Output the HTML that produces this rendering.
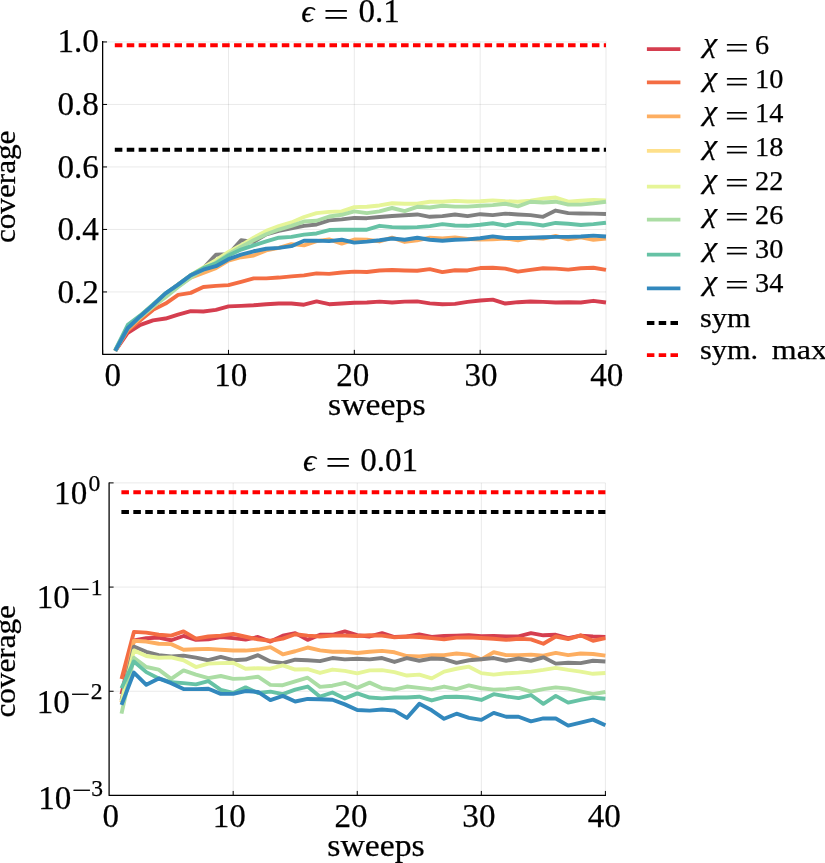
<!DOCTYPE html>
<html lang="en"><head><meta charset="utf-8"><title>coverage vs sweeps</title>
<style>html,body{margin:0;padding:0;background:#fff;}body{width:825px;height:863px;overflow:hidden;}svg{display:block;}text{font-family:"Liberation Serif","DejaVu Serif",serif;fill:#000;stroke:#000;stroke-width:0.25px;}.i{font-style:italic;}</style></head><body>
<svg width="825" height="863" viewBox="0 0 825 863">
<rect width="825" height="863" fill="#fff"/>
<g stroke="#000" stroke-opacity="0.085" stroke-width="1"><line x1="228.48" y1="41.45" x2="228.48" y2="354.27"/><line x1="354.32" y1="41.45" x2="354.32" y2="354.27"/><line x1="480.16" y1="41.45" x2="480.16" y2="354.27"/><line x1="606.00" y1="41.45" x2="606.00" y2="354.27"/><line x1="102.64" y1="291.95" x2="606.00" y2="291.95"/><line x1="102.64" y1="229.45" x2="606.00" y2="229.45"/><line x1="102.64" y1="166.95" x2="606.00" y2="166.95"/><line x1="102.64" y1="104.45" x2="606.00" y2="104.45"/><line x1="102.64" y1="41.95" x2="606.00" y2="41.95"/></g>
<polyline fill="none" stroke="#d53e4f" stroke-width="3.90" stroke-linejoin="round" points="115.22,350.85 127.81,332.73 140.39,324.85 152.98,320.44 165.56,318.55 178.14,314.61 190.73,311.14 203.31,311.46 215.90,309.88 228.48,306.42 241.06,305.91 253.65,305.23 266.23,304.22 278.82,303.54 291.40,303.54 303.98,304.72 316.57,301.33 329.15,304.22 341.74,303.54 354.32,302.69 366.90,302.52 379.49,301.67 392.07,302.52 404.66,301.67 417.24,301.33 429.82,303.37 442.41,304.22 454.99,303.88 467.58,301.84 480.16,300.48 492.74,299.63 505.33,303.54 517.91,302.18 530.50,301.50 543.08,301.84 555.66,302.52 568.25,302.18 580.83,302.52 593.42,300.82 606.00,302.52"/>
<polyline fill="none" stroke="#f46d43" stroke-width="3.90" stroke-linejoin="round" points="115.22,350.85 127.81,330.37 140.39,320.12 152.98,309.88 165.56,303.58 178.14,294.91 190.73,292.86 203.31,287.03 215.90,285.93 228.48,285.11 241.06,281.82 253.65,278.42 266.23,278.42 278.82,277.57 291.40,276.39 303.98,275.37 316.57,273.33 329.15,273.84 341.74,272.48 354.32,271.63 366.90,271.97 379.49,270.45 392.07,269.94 404.66,270.45 417.24,270.79 429.82,269.09 442.41,272.14 454.99,270.28 467.58,270.45 480.16,268.07 492.74,267.73 505.33,268.58 517.91,271.63 530.50,269.94 543.08,268.24 555.66,268.58 568.25,269.60 580.83,268.24 593.42,267.73 606.00,269.94"/>
<polyline fill="none" stroke="#fdae61" stroke-width="3.90" stroke-linejoin="round" points="115.22,350.85 127.81,329.26 140.39,317.76 152.98,306.73 165.56,295.70 178.14,286.24 190.73,277.58 203.31,272.85 215.90,268.12 228.48,260.62 241.06,257.21 253.65,255.51 266.23,250.42 278.82,247.88 291.40,244.14 303.98,245.33 316.57,241.09 329.15,239.39 341.74,243.63 354.32,239.56 366.90,239.73 379.49,241.43 392.07,237.70 404.66,241.94 417.24,240.24 429.82,237.70 442.41,238.54 454.99,237.36 467.58,239.05 480.16,239.56 492.74,239.39 505.33,238.54 517.91,240.24 530.50,237.70 543.08,238.54 555.66,236.00 568.25,239.39 580.83,237.36 593.42,239.73 606.00,238.54"/>
<polyline fill="none" stroke="#808080" stroke-width="3.90" stroke-linejoin="round" points="115.22,350.85 127.81,328.00 140.39,316.18 152.98,305.15 165.56,294.12 178.14,284.67 190.73,275.21 203.31,268.44 215.90,254.73 228.48,254.30 241.06,240.24 253.65,241.94 266.23,234.30 278.82,230.91 291.40,228.36 303.98,225.82 316.57,224.46 329.15,220.39 341.74,219.37 354.32,217.93 366.90,218.18 379.49,216.99 392.07,215.97 404.66,215.30 417.24,214.45 429.82,216.82 442.41,216.14 454.99,214.45 467.58,216.14 480.16,214.19 492.74,215.13 505.33,213.60 517.91,214.45 530.50,215.13 543.08,216.82 555.66,210.54 568.25,213.09 580.83,213.43 593.42,213.60 606.00,213.94"/>
<polyline fill="none" stroke="#e6f598" stroke-width="3.90" stroke-linejoin="round" points="115.22,350.85 127.81,327.21 140.39,315.40 152.98,304.68 165.56,294.12 178.14,284.67 190.73,275.21 203.31,267.33 215.90,260.24 228.48,251.91 241.06,245.33 253.65,237.70 266.23,230.91 278.82,226.16 291.40,222.42 303.98,216.99 316.57,213.09 329.15,211.90 341.74,211.39 354.32,207.15 366.90,206.81 379.49,205.45 392.07,203.25 404.66,203.76 417.24,203.76 429.82,201.72 442.41,201.72 454.99,200.87 467.58,201.55 480.16,201.21 492.74,200.36 505.33,201.21 517.91,201.72 530.50,200.70 543.08,198.67 555.66,197.48 568.25,201.72 580.83,200.70 593.42,199.85 606.00,200.36"/>
<polyline fill="none" stroke="#abdda4" stroke-width="3.90" stroke-linejoin="round" points="115.22,350.85 127.81,326.43 140.39,316.97 152.98,306.73 165.56,297.27 178.14,287.03 190.73,277.58 203.31,269.70 215.90,262.61 228.48,254.30 241.06,247.03 253.65,240.24 266.23,234.30 278.82,229.55 291.40,225.82 303.98,221.57 316.57,220.73 329.15,216.48 341.74,214.79 354.32,211.39 366.90,213.09 379.49,211.39 392.07,208.00 404.66,211.05 417.24,206.81 429.82,207.49 442.41,205.79 454.99,206.64 467.58,206.64 480.16,205.79 492.74,205.11 505.33,203.76 517.91,206.30 530.50,201.72 543.08,202.57 555.66,201.72 568.25,204.61 580.83,204.61 593.42,203.42 606.00,201.72"/>
<polyline fill="none" stroke="#66c2a5" stroke-width="3.90" stroke-linejoin="round" points="115.22,350.06 127.81,324.85 140.39,315.40 152.98,304.37 165.56,293.34 178.14,284.67 190.73,275.21 203.31,268.12 215.90,263.39 228.48,255.51 241.06,249.57 253.65,245.33 266.23,241.43 278.82,237.70 291.40,236.85 303.98,234.64 316.57,233.45 329.15,230.06 341.74,229.72 354.32,229.72 366.90,229.72 379.49,225.82 392.07,227.17 404.66,227.51 417.24,227.17 429.82,226.16 442.41,224.12 454.99,225.48 467.58,225.82 480.16,224.71 492.74,223.27 505.33,225.48 517.91,222.93 530.50,223.61 543.08,225.48 555.66,222.93 568.25,223.78 580.83,224.97 593.42,224.12 606.00,222.76"/>
<polyline fill="none" stroke="#3288bd" stroke-width="3.90" stroke-linejoin="round" points="115.22,350.85 127.81,328.00 140.39,316.18 152.98,305.15 165.56,293.34 178.14,284.67 190.73,275.21 203.31,269.70 215.90,266.23 228.48,259.18 241.06,254.66 253.65,251.27 266.23,248.73 278.82,247.88 291.40,246.18 303.98,240.75 316.57,240.58 329.15,241.09 341.74,239.73 354.32,242.62 366.90,241.60 379.49,240.24 392.07,238.54 404.66,239.73 417.24,237.70 429.82,239.73 442.41,240.75 454.99,239.73 467.58,239.39 480.16,238.29 492.74,236.34 505.33,238.03 517.91,238.03 530.50,237.70 543.08,237.19 555.66,236.85 568.25,236.85 580.83,236.51 593.42,235.66 606.00,236.51"/>
<line x1="114.8" y1="149.7" x2="606.0" y2="149.7" stroke="#000" stroke-width="3.9" stroke-dasharray="7.55 4.377"/>
<line x1="114.8" y1="45.3" x2="606.0" y2="45.3" stroke="#f00" stroke-width="3.9" stroke-dasharray="7.55 4.377"/>
<path d="M102.64 41.00V354.27H606.60" fill="none" stroke="#000" stroke-width="1.27" stroke-linejoin="round"/>
<g stroke="#000" stroke-width="1.0"><line x1="102.64" y1="354.27" x2="102.64" y2="349.87"/><line x1="228.48" y1="354.27" x2="228.48" y2="349.87"/><line x1="354.32" y1="354.27" x2="354.32" y2="349.87"/><line x1="480.16" y1="354.27" x2="480.16" y2="349.87"/><line x1="606.00" y1="354.27" x2="606.00" y2="349.87"/><line x1="102.64" y1="291.95" x2="107.04" y2="291.95"/><line x1="102.64" y1="229.45" x2="107.04" y2="229.45"/><line x1="102.64" y1="166.95" x2="107.04" y2="166.95"/><line x1="102.64" y1="104.45" x2="107.04" y2="104.45"/><line x1="102.64" y1="41.95" x2="107.04" y2="41.95"/></g>
<text x="98.9" y="302.6" font-size="34.3" text-anchor="end" textLength="41.4" lengthAdjust="spacingAndGlyphs">0.2</text>
<text x="98.9" y="240.0" font-size="34.3" text-anchor="end" textLength="41.4" lengthAdjust="spacingAndGlyphs">0.4</text>
<text x="98.9" y="177.5" font-size="34.3" text-anchor="end" textLength="41.4" lengthAdjust="spacingAndGlyphs">0.6</text>
<text x="98.9" y="115.0" font-size="34.3" text-anchor="end" textLength="41.4" lengthAdjust="spacingAndGlyphs">0.8</text>
<text x="98.9" y="51.6" font-size="34.3" text-anchor="end" textLength="41.4" lengthAdjust="spacingAndGlyphs">1.0</text>
<text x="112.7" y="385.5" font-size="34.3" text-anchor="middle" textLength="16.5" lengthAdjust="spacingAndGlyphs">0</text>
<text x="230.7" y="385.5" font-size="34.3" text-anchor="middle" textLength="33.1" lengthAdjust="spacingAndGlyphs">10</text>
<text x="352.8" y="385.5" font-size="34.3" text-anchor="middle" textLength="33.1" lengthAdjust="spacingAndGlyphs">20</text>
<text x="481.0" y="385.5" font-size="34.3" text-anchor="middle" textLength="33.1" lengthAdjust="spacingAndGlyphs">30</text>
<text x="606.8" y="385.5" font-size="34.3" text-anchor="middle" textLength="33.1" lengthAdjust="spacingAndGlyphs">40</text>
<text x="376.8" y="415.0" font-size="30.6" text-anchor="middle" textLength="97.5" lengthAdjust="spacingAndGlyphs">sweeps</text>
<text transform="translate(14.6 186.8) rotate(-90)" font-size="28.4" text-anchor="middle" textLength="112.5" lengthAdjust="spacingAndGlyphs">coverage</text>
<text x="301.3" y="22.3" font-size="32.5" class="i">ϵ</text><text x="323.6" y="25.9" font-size="34.3" textLength="25.4" lengthAdjust="spacingAndGlyphs">=</text><text x="358.4" y="22.3" font-size="34.3" text-anchor="start" textLength="41.4" lengthAdjust="spacingAndGlyphs">0.1</text>
<line x1="646.9" y1="49.1" x2="680.4" y2="49.1" stroke="#d53e4f" stroke-width="3.8"/>
<text x="703.3" y="52.4" font-size="27" class="i" textLength="13.9" lengthAdjust="spacingAndGlyphs">χ</text>
<text x="725.0" y="56.6" font-size="27" textLength="23.8" lengthAdjust="spacingAndGlyphs">=</text>
<text x="755.0" y="54.0" font-size="27.2" text-anchor="start" textLength="14.1" lengthAdjust="spacingAndGlyphs">6</text>
<line x1="646.9" y1="82.4" x2="680.4" y2="82.4" stroke="#f46d43" stroke-width="3.8"/>
<text x="703.3" y="86.4" font-size="27" class="i" textLength="13.9" lengthAdjust="spacingAndGlyphs">χ</text>
<text x="725.0" y="90.5" font-size="27" textLength="23.8" lengthAdjust="spacingAndGlyphs">=</text>
<text x="755.0" y="88.0" font-size="27.2" text-anchor="start" textLength="28.3" lengthAdjust="spacingAndGlyphs">10</text>
<line x1="646.9" y1="116.4" x2="680.4" y2="116.4" stroke="#fdae61" stroke-width="3.8"/>
<text x="703.3" y="120.3" font-size="27" class="i" textLength="13.9" lengthAdjust="spacingAndGlyphs">χ</text>
<text x="725.0" y="124.5" font-size="27" textLength="23.8" lengthAdjust="spacingAndGlyphs">=</text>
<text x="755.0" y="121.9" font-size="27.2" text-anchor="start" textLength="28.3" lengthAdjust="spacingAndGlyphs">14</text>
<line x1="646.9" y1="150.8" x2="680.4" y2="150.8" stroke="#fee08b" stroke-width="3.8"/>
<text x="703.3" y="154.3" font-size="27" class="i" textLength="13.9" lengthAdjust="spacingAndGlyphs">χ</text>
<text x="725.0" y="158.5" font-size="27" textLength="23.8" lengthAdjust="spacingAndGlyphs">=</text>
<text x="755.0" y="155.9" font-size="27.2" text-anchor="start" textLength="28.3" lengthAdjust="spacingAndGlyphs">18</text>
<line x1="646.9" y1="186.7" x2="680.4" y2="186.7" stroke="#e6f598" stroke-width="3.8"/>
<text x="703.3" y="188.2" font-size="27" class="i" textLength="13.9" lengthAdjust="spacingAndGlyphs">χ</text>
<text x="725.0" y="192.4" font-size="27" textLength="23.8" lengthAdjust="spacingAndGlyphs">=</text>
<text x="755.0" y="189.8" font-size="27.2" text-anchor="start" textLength="28.3" lengthAdjust="spacingAndGlyphs">22</text>
<line x1="646.9" y1="219.7" x2="680.4" y2="219.7" stroke="#abdda4" stroke-width="3.8"/>
<text x="703.3" y="222.2" font-size="27" class="i" textLength="13.9" lengthAdjust="spacingAndGlyphs">χ</text>
<text x="725.0" y="226.3" font-size="27" textLength="23.8" lengthAdjust="spacingAndGlyphs">=</text>
<text x="755.0" y="223.8" font-size="27.2" text-anchor="start" textLength="28.3" lengthAdjust="spacingAndGlyphs">26</text>
<line x1="646.9" y1="254.6" x2="680.4" y2="254.6" stroke="#66c2a5" stroke-width="3.8"/>
<text x="703.3" y="256.1" font-size="27" class="i" textLength="13.9" lengthAdjust="spacingAndGlyphs">χ</text>
<text x="725.0" y="260.3" font-size="27" textLength="23.8" lengthAdjust="spacingAndGlyphs">=</text>
<text x="755.0" y="257.7" font-size="27.2" text-anchor="start" textLength="28.3" lengthAdjust="spacingAndGlyphs">30</text>
<line x1="646.9" y1="288.4" x2="680.4" y2="288.4" stroke="#3288bd" stroke-width="3.8"/>
<text x="703.3" y="290.1" font-size="27" class="i" textLength="13.9" lengthAdjust="spacingAndGlyphs">χ</text>
<text x="725.0" y="294.3" font-size="27" textLength="23.8" lengthAdjust="spacingAndGlyphs">=</text>
<text x="755.0" y="291.7" font-size="27.2" text-anchor="start" textLength="28.3" lengthAdjust="spacingAndGlyphs">34</text>
<line x1="646.9" y1="323.0" x2="680.4" y2="323.0" stroke="#000" stroke-width="3.9" stroke-dasharray="7.5 4.3"/>
<text x="700.1" y="327.4" font-size="27" textLength="50.4" lengthAdjust="spacingAndGlyphs">sym</text>
<line x1="646.9" y1="355.1" x2="680.4" y2="355.1" stroke="#f00" stroke-width="3.9" stroke-dasharray="7.5 4.3"/>
<text x="700.1" y="359.2" font-size="27" textLength="58" lengthAdjust="spacingAndGlyphs">sym.</text>
<text x="771.8" y="359.2" font-size="27" textLength="55.1" lengthAdjust="spacingAndGlyphs">max</text>
<g stroke="#000" stroke-opacity="0.085" stroke-width="1"><line x1="233.18" y1="482.90" x2="233.18" y2="795.45"/><line x1="357.25" y1="482.90" x2="357.25" y2="795.45"/><line x1="481.33" y1="482.90" x2="481.33" y2="795.45"/><line x1="605.40" y1="482.90" x2="605.40" y2="795.45"/><line x1="109.10" y1="482.90" x2="605.40" y2="482.90"/><line x1="109.10" y1="587.08" x2="605.40" y2="587.08"/><line x1="109.10" y1="691.26" x2="605.40" y2="691.26"/></g>
<polyline fill="none" stroke="#d53e4f" stroke-width="3.90" stroke-linejoin="round" points="121.51,694.18 133.91,640.39 146.32,638.18 158.73,637.67 171.14,640.22 183.55,635.97 195.95,639.88 208.36,639.37 220.77,636.99 233.18,638.18 245.58,639.62 257.99,636.99 270.40,641.57 282.81,635.64 295.21,633.09 307.62,639.88 320.03,634.79 332.44,634.79 344.84,631.39 357.25,635.21 369.66,636.48 382.07,633.09 394.47,636.99 406.88,636.48 419.29,634.45 431.70,636.99 444.10,635.97 456.51,635.64 468.92,635.30 481.33,636.23 493.73,635.97 506.14,636.48 518.55,636.48 530.96,633.09 543.36,635.30 555.77,634.79 568.18,638.18 580.59,635.64 592.99,636.48 605.40,636.99"/>
<polyline fill="none" stroke="#f46d43" stroke-width="3.90" stroke-linejoin="round" points="121.51,678.91 133.91,631.90 146.32,632.58 158.73,634.79 171.14,635.64 183.55,631.39 195.95,638.69 208.36,636.48 220.77,635.64 233.18,633.94 245.58,636.74 257.99,639.37 270.40,640.73 282.81,638.69 295.21,634.28 307.62,635.64 320.03,636.48 332.44,635.64 344.84,635.64 357.25,635.97 369.66,635.30 382.07,635.64 394.47,637.33 406.88,636.48 419.29,636.99 431.70,638.18 444.10,639.37 456.51,637.67 468.92,637.33 481.33,637.93 493.73,638.69 506.14,639.88 518.55,638.69 530.96,639.37 543.36,643.78 555.77,636.48 568.18,639.03 580.59,635.30 592.99,640.73 605.40,638.18"/>
<polyline fill="none" stroke="#fdae61" stroke-width="3.90" stroke-linejoin="round" points="121.51,702.32 133.91,640.73 146.32,641.57 158.73,643.78 171.14,644.12 183.55,649.72 195.95,649.21 208.36,648.87 220.77,649.72 233.18,650.57 245.58,650.57 257.99,649.55 270.40,647.17 282.81,654.30 295.21,651.25 307.62,647.51 320.03,650.40 332.44,651.76 344.84,651.76 357.25,652.94 369.66,651.76 382.07,650.91 394.47,652.27 406.88,656.00 419.29,656.34 431.70,655.15 444.10,655.15 456.51,653.45 468.92,654.64 481.33,659.39 493.73,652.27 506.14,655.15 518.55,655.15 530.96,654.64 543.36,655.66 555.77,652.94 568.18,655.15 580.59,653.45 592.99,653.96 605.40,655.66"/>
<polyline fill="none" stroke="#808080" stroke-width="3.90" stroke-linejoin="round" points="121.51,700.12 133.91,646.67 146.32,651.76 158.73,655.15 171.14,656.34 183.55,655.66 195.95,657.70 208.36,660.24 220.77,656.85 233.18,660.24 245.58,659.56 257.99,655.15 270.40,661.43 282.81,663.13 295.21,659.73 307.62,660.24 320.03,661.09 332.44,658.03 344.84,659.39 357.25,658.80 369.66,659.39 382.07,658.03 394.47,661.94 406.88,658.03 419.29,660.75 431.70,658.54 444.10,659.05 456.51,662.79 468.92,660.24 481.33,659.22 493.73,658.03 506.14,660.75 518.55,658.54 530.96,660.75 543.36,657.36 555.77,663.63 568.18,662.79 580.59,663.13 592.99,660.75 605.40,661.43"/>
<polyline fill="none" stroke="#e6f598" stroke-width="3.90" stroke-linejoin="round" points="121.51,701.82 133.91,650.40 146.32,656.00 158.73,657.70 171.14,657.36 183.55,660.24 195.95,667.03 208.36,663.63 220.77,663.13 233.18,662.79 245.58,668.73 257.99,668.22 270.40,668.73 282.81,665.33 295.21,669.57 307.62,669.23 320.03,672.97 332.44,669.57 344.84,670.93 357.25,673.31 369.66,670.42 382.07,670.08 394.47,672.12 406.88,675.51 419.29,674.66 431.70,678.40 444.10,671.61 456.51,668.73 468.92,666.69 481.33,673.14 493.73,674.66 506.14,673.31 518.55,672.63 530.96,671.61 543.36,669.91 555.77,667.88 568.18,669.91 580.59,671.61 592.99,673.82 605.40,672.97"/>
<polyline fill="none" stroke="#abdda4" stroke-width="3.90" stroke-linejoin="round" points="121.51,713.69 133.91,657.70 146.32,667.03 158.73,669.57 171.14,678.91 183.55,670.42 195.95,674.66 208.36,678.06 220.77,676.02 233.18,678.91 245.58,678.40 257.99,676.70 270.40,684.85 282.81,685.19 295.21,681.45 307.62,677.72 320.03,686.88 332.44,685.69 344.84,682.81 357.25,687.90 369.66,682.64 382.07,688.24 394.47,689.60 406.88,686.54 419.29,687.90 431.70,689.43 444.10,686.54 456.51,689.09 468.92,685.36 481.33,688.24 493.73,689.60 506.14,689.09 518.55,687.90 530.96,691.63 543.36,689.09 555.77,687.39 568.18,688.58 580.59,691.29 592.99,694.18 605.40,691.97"/>
<polyline fill="none" stroke="#66c2a5" stroke-width="3.90" stroke-linejoin="round" points="121.51,688.24 133.91,661.43 146.32,672.12 158.73,678.40 171.14,682.30 183.55,683.15 195.95,684.34 208.36,681.11 220.77,689.94 233.18,692.99 245.58,687.39 257.99,692.99 270.40,691.63 282.81,694.18 295.21,689.60 307.62,686.54 320.03,696.72 332.44,692.48 344.84,698.42 357.25,693.33 369.66,697.57 382.07,698.42 394.47,697.57 406.88,697.57 419.29,696.72 431.70,700.46 444.10,697.06 456.51,696.72 468.92,697.57 481.33,699.95 493.73,694.18 506.14,696.39 518.55,698.08 530.96,695.03 543.36,703.85 555.77,695.88 568.18,702.66 580.59,699.78 592.99,697.57 605.40,698.76"/>
<polyline fill="none" stroke="#3288bd" stroke-width="3.90" stroke-linejoin="round" points="121.51,704.87 133.91,672.63 146.32,684.85 158.73,678.40 171.14,683.15 183.55,689.09 195.95,689.09 208.36,688.75 220.77,693.84 233.18,693.84 245.58,691.04 257.99,691.97 270.40,700.12 282.81,695.88 295.21,701.48 307.62,698.93 320.03,699.27 332.44,699.78 344.84,704.36 357.25,709.96 369.66,710.64 382.07,709.45 394.47,710.64 406.88,717.94 419.29,703.85 431.70,710.30 444.10,718.78 456.51,713.69 468.92,717.94 481.33,719.89 493.73,712.85 506.14,716.75 518.55,716.75 530.96,721.33 543.36,718.45 555.77,718.45 568.18,725.57 580.59,722.52 592.99,719.63 605.40,725.23"/>
<line x1="121.4" y1="512.0" x2="605.4" y2="512.0" stroke="#000" stroke-width="3.9" stroke-dasharray="7.55 4.37"/>
<line x1="121.4" y1="492.3" x2="605.4" y2="492.3" stroke="#f00" stroke-width="3.9" stroke-dasharray="7.55 4.37"/>
<path d="M109.10 482.45V795.45H606.00" fill="none" stroke="#000" stroke-width="1.27" stroke-linejoin="round"/>
<g stroke="#000" stroke-width="1.0"><line x1="233.18" y1="795.45" x2="233.18" y2="790.95"/><line x1="357.25" y1="795.45" x2="357.25" y2="790.95"/><line x1="481.33" y1="795.45" x2="481.33" y2="790.95"/><line x1="605.40" y1="795.45" x2="605.40" y2="790.95"/><line x1="109.10" y1="482.90" x2="113.60" y2="482.90"/><line x1="109.10" y1="587.08" x2="113.60" y2="587.08"/><line x1="109.10" y1="691.26" x2="113.60" y2="691.26"/></g>
<text x="87.2" y="504.2" font-size="34.3" text-anchor="end" textLength="33.1" lengthAdjust="spacingAndGlyphs">10</text>
<text x="100.4" y="491.2" font-size="23.5" text-anchor="end" textLength="11.8" lengthAdjust="spacingAndGlyphs">0</text>
<text x="69.9" y="608.4" font-size="34.3" text-anchor="end" textLength="33.1" lengthAdjust="spacingAndGlyphs">10</text>
<text x="70.5" y="597.4" font-size="23.5" textLength="19.6" lengthAdjust="spacingAndGlyphs">−</text>
<text x="102.5" y="595.0" font-size="23.5" text-anchor="end" textLength="11.8" lengthAdjust="spacingAndGlyphs">1</text>
<text x="69.9" y="712.6" font-size="34.3" text-anchor="end" textLength="33.1" lengthAdjust="spacingAndGlyphs">10</text>
<text x="70.5" y="701.6" font-size="23.5" textLength="19.6" lengthAdjust="spacingAndGlyphs">−</text>
<text x="102.5" y="699.2" font-size="23.5" text-anchor="end" textLength="11.8" lengthAdjust="spacingAndGlyphs">2</text>
<text x="71.4" y="809.4" font-size="34.3" text-anchor="end" textLength="33.1" lengthAdjust="spacingAndGlyphs">10</text>
<text x="72.0" y="798.4" font-size="23.5" textLength="19.6" lengthAdjust="spacingAndGlyphs">−</text>
<text x="103.0" y="796.0" font-size="23.5" text-anchor="end" textLength="11.8" lengthAdjust="spacingAndGlyphs">3</text>
<text x="110.7" y="827.0" font-size="34.3" text-anchor="middle" textLength="16.5" lengthAdjust="spacingAndGlyphs">0</text>
<text x="229.2" y="827.0" font-size="34.3" text-anchor="middle" textLength="33.1" lengthAdjust="spacingAndGlyphs">10</text>
<text x="351.0" y="827.0" font-size="34.3" text-anchor="middle" textLength="33.1" lengthAdjust="spacingAndGlyphs">20</text>
<text x="478.9" y="827.0" font-size="34.3" text-anchor="middle" textLength="33.1" lengthAdjust="spacingAndGlyphs">30</text>
<text x="604.3" y="827.0" font-size="34.3" text-anchor="middle" textLength="33.1" lengthAdjust="spacingAndGlyphs">40</text>
<text x="376" y="856.4" font-size="30.6" text-anchor="middle" textLength="97.5" lengthAdjust="spacingAndGlyphs">sweeps</text>
<text transform="translate(15.0 661.3) rotate(-90)" font-size="28.4" text-anchor="middle" textLength="112.5" lengthAdjust="spacingAndGlyphs">coverage</text>
<text x="303.1" y="470.8" font-size="32.5" class="i">ϵ</text><text x="325.4" y="474.4" font-size="34.3" textLength="25.4" lengthAdjust="spacingAndGlyphs">=</text><text x="360.2" y="470.8" font-size="34.3" text-anchor="start" textLength="57.9" lengthAdjust="spacingAndGlyphs">0.01</text>
</svg></body></html>
